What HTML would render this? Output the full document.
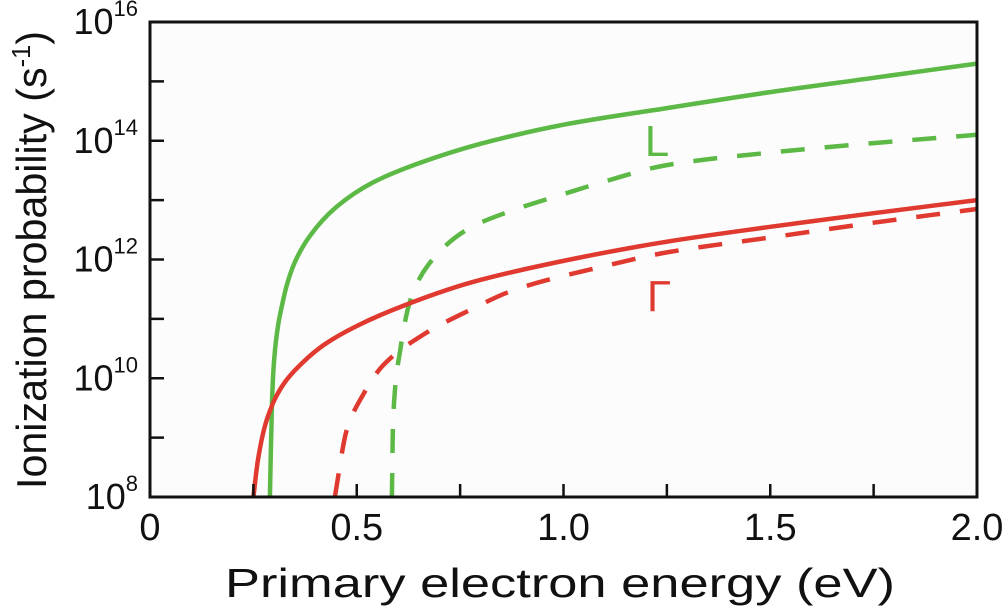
<!DOCTYPE html>
<html><head><meta charset="utf-8"><style>
body{margin:0;background:#fff;}
svg{display:block;font-family:"Liberation Sans",sans-serif;}
</style></head><body>
<svg id="chart" width="1004" height="613">
<rect x="150" y="22" width="827" height="475" fill="#fcfcfc"/>
<g id="series"></g>
<g id="axes"></g>
<text x="657" y="156" font-size="44" fill="#5cb946" text-anchor="middle">L</text>
<text x="659" y="311" font-size="44" fill="#e03a30" text-anchor="middle">Γ</text>
<text x="225" y="597" font-size="41" textLength="670" lengthAdjust="spacingAndGlyphs" fill="#111">Primary electron energy (eV)</text>
<text transform="translate(46,489) rotate(-90)" font-size="42" textLength="458" lengthAdjust="spacingAndGlyphs" fill="#111">Ionization probability (s<tspan dy="-16" font-size="26">-1</tspan><tspan dy="16">)</tspan></text>
</svg>
<script>
const xTicks=[0,0.5,1.0,1.5,2.0];
const xTickLabels=["0","0.5","1.0","1.5","2.0"];
const yTicks=[8,10,12,14,16];
const gsX=[0.29,0.295,0.30,0.31,0.32,0.33,0.35,0.387,0.45,0.54,0.65,0.8,1.0,1.25,1.5,1.75,2.0];
const gsY=[8,9.6,10.3,10.9,11.25,11.55,11.95,12.4,12.88,13.3,13.62,13.95,14.27,14.55,14.82,15.06,15.3];
const gdX=[0.585,0.588,0.605,0.629,0.672,0.766,0.878,0.99,1.088,1.25,1.5,1.75,2.0];
const gdY=[8,9.3,10.47,11.3,11.9,12.5,12.83,13.08,13.29,13.59,13.8,13.96,14.1];
const rsX=[0.25,0.261,0.278,0.29,0.302,0.33,0.37,0.42,0.5,0.605,0.78,1.016,1.25,1.5,1.75,2.0];
const rsY=[8,8.62,9.2,9.45,9.65,9.97,10.27,10.56,10.88,11.2,11.62,12.0,12.3,12.55,12.78,13.0];
const rdX=[0.447,0.476,0.515,0.564,0.66,0.774,0.878,1.088,1.25,1.5,1.75,2.0];
const rdY=[8,9.13,9.72,10.22,10.73,11.15,11.48,11.87,12.12,12.37,12.62,12.85];
const X0=150,X1=977,Y0=497,Y1=22;
const sx=v=>X0+(v/2)*(X1-X0);
const sy=v=>Y0-(v-8)/8*(Y0-Y1);
const NS="http://www.w3.org/2000/svg";
const ser=document.getElementById('series'),ax=document.getElementById('axes');
function monoPath(px,py){
  const n=px.length,d=[],m=new Array(n);
  for(let i=0;i<n-1;i++)d.push((py[i+1]-py[i])/(px[i+1]-px[i]));
  m[0]=d[0];m[n-1]=d[n-2];
  for(let i=1;i<n-1;i++){
    if(d[i-1]*d[i]<=0)m[i]=0;
    else{const h0=px[i]-px[i-1],h1=px[i+1]-px[i];
      m[i]=3*(h0+h1)/((2*h1+h0)/d[i-1]+(h1+2*h0)/d[i]);}
  }
  let s='M'+px[0].toFixed(1)+','+py[0].toFixed(1);
  for(let i=0;i<n-1;i++){
    const h=(px[i+1]-px[i])/3;
    s+='C'+(px[i]+h).toFixed(1)+','+(py[i]+m[i]*h).toFixed(1)+' '+(px[i+1]-h).toFixed(1)+','+(py[i+1]-m[i+1]*h).toFixed(1)+' '+px[i+1].toFixed(1)+','+py[i+1].toFixed(1);
  }
  return s;
}
function line(xs,ys,color,dash,name){
  const p=document.createElementNS(NS,'path');
  p.setAttribute('d',monoPath(xs.map(sx),ys.map(sy)));
  p.setAttribute('fill','none');p.setAttribute('stroke',color);p.setAttribute('stroke-width','4.5');
  if(dash)p.setAttribute('stroke-dasharray',dash);
  
  
  ser.appendChild(p);
}
line(gsX,gsY,'#5cb946',null,'line-L-solid');
line(gdX,gdY,'#5cb946','24 20','line-L-dashed');
line(rsX,rsY,'#e03a30',null,'line-gamma-solid');
line(rdX,rdY,'#e03a30','24 20','line-gamma-dashed');
const frame=document.createElementNS(NS,'rect');
frame.setAttribute('x',X0);frame.setAttribute('y',Y1);frame.setAttribute('width',X1-X0);frame.setAttribute('height',Y0-Y1);
frame.setAttribute('fill','none');frame.setAttribute('stroke','#111');frame.setAttribute('stroke-width','3');


ax.appendChild(frame);
function tick(x1,y1,x2,y2){const l=document.createElementNS(NS,'line');
 l.setAttribute('x1',x1);l.setAttribute('y1',y1);l.setAttribute('x2',x2);l.setAttribute('y2',y2);
 l.setAttribute('stroke','#111');l.setAttribute('stroke-width','2.5');
 
 
 ax.appendChild(l);}
for(let v=0.25;v<2;v+=0.25){tick(sx(v),Y0,sx(v),Y0-13);}
for(let d=9;d<16;d++){tick(X0,sy(d),X0+14,sy(d));}
xTicks.forEach((v,i)=>{const t=document.createElementNS(NS,'text');
 t.setAttribute('x',sx(v));t.setAttribute('y',540);t.setAttribute('font-size','38');t.setAttribute('text-anchor','middle');t.setAttribute('fill','#111');
 t.textContent=xTickLabels[i];
 
 
 ax.appendChild(t);});
yTicks.forEach(v=>{const t=document.createElementNS(NS,'text');
 t.setAttribute('x',138);t.setAttribute('y',sy(v)+12);t.setAttribute('font-size','36');t.setAttribute('text-anchor','end');t.setAttribute('fill','#111');
 t.innerHTML='10<tspan dy="-18" font-size="22">'+v+'</tspan>';
 
 
 ax.appendChild(t);});
</script>
</body></html>
